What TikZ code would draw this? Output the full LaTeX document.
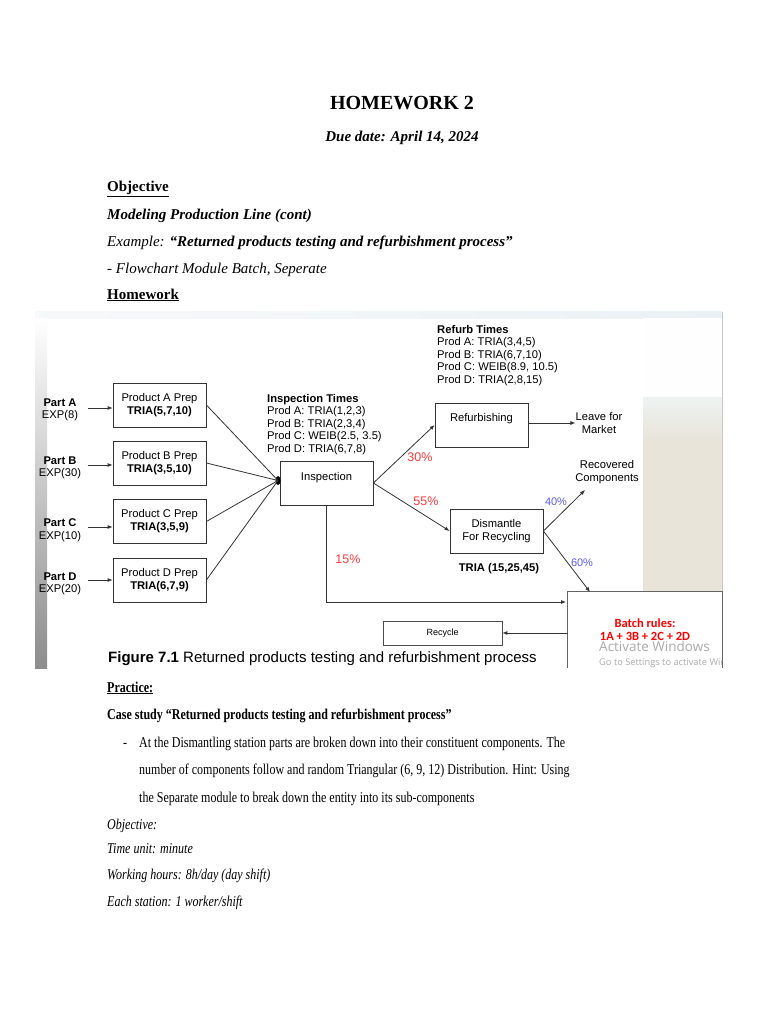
\documentclass[tikz,border=0pt]{standalone}
\usepackage{fontspec}
\setmainfont{Liberation Serif}
\newfontfamily\arial{Liberation Sans}
\newfontfamily\calib{Carlito}
\newfontfamily\condserif[FakeStretch=0.80]{Liberation Serif}
\newfontfamily\winfont{Open Sans}
\usetikzlibrary{arrows.meta,shapes.geometric}

\definecolor{linec}{HTML}{333333}
\definecolor{pctred}{HTML}{FF3B3B}
\definecolor{pctblue}{HTML}{5A5AF0}
\definecolor{batchred}{HTML}{FF0000}
\definecolor{beige}{HTML}{E8E4DA}
\definecolor{wmgray}{HTML}{ABABAB}
\definecolor{bandblue}{HTML}{EAF1F4}
\definecolor{paleblue}{HTML}{EEF3F2}

\tikzset{
 doc/.style={anchor=base west, inner sep=0pt, font=\fontsize{15}{18}\selectfont},
 cdoc/.style={anchor=base west, inner sep=0pt, font=\condserif\fontsize{15}{18}\selectfont},
 dtext/.style={inner sep=0pt, align=center, font=\arial\fontsize{11.2}{12.6}\selectfont},
 dline/.style={anchor=base west, inner sep=0pt, font=\arial\fontsize{11.2}{12.6}\selectfont},
 pbox/.style={draw=linec, line width=0.8pt, minimum width=93pt, minimum height=44pt, inner sep=0pt, align=center, font=\arial\fontsize{11.2}{13}\selectfont},
 arr/.style={draw=linec, line width=0.8pt, -{Latex[length=5pt,width=4pt]}},
 conn/.style={draw=linec, line width=0.8pt},
 redpct/.style={inner sep=0pt, text=pctred, font=\arial\fontsize{12.5}{14}\selectfont},
 bluepct/.style={inner sep=0pt, text=pctblue, font=\arial\fontsize{11}{13}\selectfont},
}

\begin{document}
\begin{tikzpicture}[x=1pt,y=-1pt]
\useasboundingbox[fill=white] (0,0) rectangle (768,1024);

% ---------- header text ----------
\node[doc, anchor=base, font=\bfseries\fontsize{20}{24}\selectfont] (title) at (402,110) {HOMEWORK 2};
\node[doc, anchor=base, font=\bfseries\itshape\fontsize{15}{18}\selectfont] (due) at (402,142) {Due date: April 14, 2024};
\node[doc, font=\bfseries\fontsize{15}{18}\selectfont] (obj) at (107,192) {\underline{Objective}};
\node[doc, font=\bfseries\itshape\fontsize{15}{18}\selectfont] (model) at (107,220) {Modeling Production Line (cont)};
\node[doc, font=\itshape\fontsize{15}{18}\selectfont] (example) at (107,247) {Example: \textbf{“Returned products testing and refurbishment process”}};
\node[doc, font=\itshape\fontsize{15}{18}\selectfont] (flow) at (107,273) {- Flowchart Module Batch, Seperate};
\node[doc, font=\bfseries\fontsize{15}{18}\selectfont] (hw) at (107,299) {\underline{Homework}};

% ---------- figure background ----------
\shade[left color=white!60!bandblue, right color=bandblue] (35,311) rectangle (722,318);
\shade[top color=white, bottom color=black!45] (35,318) rectangle (47,668);
\fill[white!97!beige] (643,318) rectangle (722,397);
\shade[top color=paleblue, bottom color=beige] (643,397) rectangle (722,440);
\fill[beige] (643,440) rectangle (722,592);
\draw[black!22, line width=0.8pt] (722,312) -- (722,668);

% ---------- entries ----------
\node[dtext] (partA) at (60,410) {\textbf{Part A}\\EXP(8)};
\node[dtext] (partB) at (60,468) {\textbf{Part B}\\EXP(30)};
\node[dtext] (partC) at (60,530) {\textbf{Part C}\\EXP(10)};
\node[dtext] (partD) at (60,584) {\textbf{Part D}\\EXP(20)};

\node[pbox] (pa) at (159.5,405) {Product A Prep\\\textbf{TRIA(5,7,10)}};
\node[pbox] (pb) at (159.5,463) {Product B Prep\\\textbf{TRIA(3,5,10)}};
\node[pbox] (pc) at (159.5,521.5) {Product C Prep\\\textbf{TRIA(3,5,9)}};
\node[pbox] (pd) at (159.5,580) {Product D Prep\\\textbf{TRIA(6,7,9)}};

\coordinate (sa) at (88,408);
\coordinate (sb) at (88,465);
\coordinate (sc) at (88,527);
\coordinate (sd) at (88,580);
\draw[arr] (sa) -- (sa -| pa.west);
\draw[arr] (sb) -- (sb -| pb.west);
\draw[arr] (sc) -- (sc -| pc.west);
\draw[arr] (sd) -- (sd -| pd.west);

% ---------- inspection ----------
\node[pbox] (insp) at (326.5,483) {};
\node[dtext, anchor=base] (inspT) at (326.5,480) {Inspection};
\node[ellipse, fill=black, inner sep=0pt, minimum width=5pt, minimum height=9pt] (dot) at (278,480.5) {};
\draw[conn] (pa.east) -- (dot.center);
\draw[conn] (pb.east) -- (dot.center);
\draw[conn] (pc.east) -- (dot.center);
\draw[conn] (pd.east) -- (dot.center);

\node[dline, font=\arial\bfseries\fontsize{11.2}{12.6}\selectfont] (it0) at (267,402) {Inspection Times};
\node[dline] (it1) at (267,414.5) {Prod A: TRIA(1,2,3)};
\node[dline] (it2) at (267,427) {Prod B: TRIA(2,3,4)};
\node[dline] (it3) at (267,439.5) {Prod C: WEIB(2.5, 3.5)};
\node[dline] (it4) at (267,452) {Prod D: TRIA(6,7,8)};

% ---------- refurbishing ----------
\node[dline, font=\arial\bfseries\fontsize{11.2}{12.6}\selectfont] (rt0) at (437,333) {Refurb Times};
\node[dline] (rt1) at (437,345.5) {Prod A: TRIA(3,4,5)};
\node[dline] (rt2) at (437,358) {Prod B: TRIA(6,7,10)};
\node[dline] (rt3) at (437,370.5) {Prod C: WEIB(8.9, 10.5)};
\node[dline] (rt4) at (437,383) {Prod D: TRIA(2,8,15)};

\node[pbox] (refurb) at (481.5,425) {};
\node[dtext, anchor=base] (refurbT) at (481.5,421) {Refurbishing};
\node[dtext] (leave) at (599,423) {Leave for\\Market};
\draw[arr] (leave.west -| refurb.east) -- (leave.west);

\node[redpct] (p30) at (420,457) {30\%};
\draw[arr] (insp.east) -- (refurb.west);

% ---------- dismantle ----------
\node[pbox] (dis) at (496.5,531) {Dismantle\\For Recycling};
\node[dtext, font=\arial\bfseries\fontsize{11.2}{12.6}\selectfont] (distime) at (499,569) {TRIA (15,25,45)};
\node[redpct] (p55) at (426,501) {55\%};
\draw[arr] (insp.east) -- (dis.west);

\node[dtext] (recov) at (607,472) {Recovered\\Components};
\coordinate (recin) at (585,490);
\node[bluepct] (p40) at (556,502) {40\%};
\draw[arr] (dis.east) -- (recin);

% ---------- batch ----------
\node[minimum width=154pt, minimum height=76pt, inner sep=0pt] (batch) at (645,630) {};
\draw[draw=black!60, line width=0.8pt] (batch.south west) -- (batch.north west) -- (batch.north east) -- (batch.south east);
\node[inner sep=0pt, align=center, text=batchred, font=\calib\bfseries\fontsize{12.5}{13}\selectfont] (rules) at (645,629.5) {Batch rules:\\1A + 3B + 2C + 2D};
\coordinate (batchtop) at (590,592);
\node[bluepct] (p60) at (582,563) {60\%};
\draw[arr] (dis.east) -- (batchtop);

\node[redpct] (p15) at (348,559) {15\%};
\coordinate (batchin) at (566,602);
\draw[arr] (insp.south) |- (batchin);

% ---------- recycle ----------
\node[draw=black!70, line width=0.7pt, minimum width=119pt, minimum height=24pt, inner sep=0pt, font=\arial\fontsize{9}{10}\selectfont] (rec) at (442.5,633) {Recycle};
\draw[arr] (rec.east -| batch.west) -- (rec.east);

% ---------- caption ----------
\node[anchor=base west, inner sep=0pt, font=\arial\fontsize{15}{18}\selectfont] (cap) at (108,662) {\textbf{Figure 7.1} Returned products testing and refurbishment process};

% ---------- watermark ----------
\begin{scope}
\clip (35,312) rectangle (722,668);
\node[anchor=base west, inner sep=0pt, text=wmgray, font=\winfont\fontsize{13.5}{15}\selectfont] (wm1) at (599,651.5) {Activate Windows};
\node[anchor=base west, inner sep=0pt, text=wmgray, font=\winfont\fontsize{9.3}{11}\selectfont] (wm2) at (599,665) {Go to Settings to activate Windows.};
\end{scope}

% ---------- practice ----------
\node[cdoc, font=\condserif\bfseries\fontsize{15}{18}\selectfont] (prac) at (107,692) {\underline{Practice:}};
\node[cdoc, font=\condserif\bfseries\fontsize{15}{18}\selectfont] (case) at (107,719) {Case study “Returned products testing and refurbishment process”};
\node[cdoc] (dash) at (123,747) {-};
\node[cdoc] (l1) at (139,747) {At the Dismantling station parts are broken down into their constituent components. The};
\node[cdoc] (l2) at (139,774) {number of components follow and random Triangular (6, 9, 12) Distribution. Hint: Using};
\node[cdoc] (l3) at (139,802) {the Separate module to break down the entity into its sub-components};
\node[cdoc, font=\condserif\itshape\fontsize{15}{18}\selectfont] (obj2) at (107,829) {Objective:};
\node[cdoc, font=\condserif\itshape\fontsize{15}{18}\selectfont] (tu) at (107,853) {Time unit: minute};
\node[cdoc, font=\condserif\itshape\fontsize{15}{18}\selectfont] (wh) at (107,879) {Working hours: 8h/day (day shift)};
\node[cdoc, font=\condserif\itshape\fontsize{15}{18}\selectfont] (es) at (107,906) {Each station: 1 worker/shift};
\end{tikzpicture}
\end{document}
